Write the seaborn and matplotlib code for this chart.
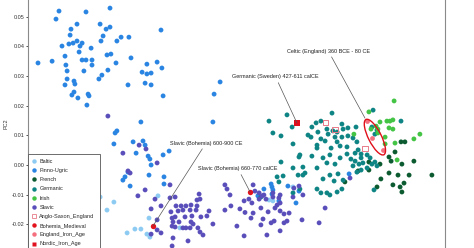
import numpy as np
import pandas as pd
import matplotlib
matplotlib.use("Agg")
import matplotlib.pyplot as plt
import seaborn as sns
from matplotlib.patches import Ellipse
from matplotlib.lines import Line2D
from matplotlib.ticker import FuncFormatter, FixedLocator

# PCA scores (units of 1e-3)
baltic_pc1 = [-45.3, -40.7, -43.0, -33.7, -31.7, -29.0, -36.3, -29.7, -28.7, -26.0, -18.7, 11.0, 12.3, 19.0]
baltic_pc2 = [-10.8, -12.5, -15.2, -21.6, -21.6, -17.9, -22.9, -23.3, -24.3, -10.4, -21.2, -11.8, -12.1, -7.4]

finno_pc1 = [-59.0, -60.0, -50.0, -42.0, -53.0, -55.0, -45.3, -43.3, -42.0, -55.3, -44.3, -38.3, -35.7, -39.7,
             -45.0, -58.0, -55.7, -54.3, -53.0, -51.3, -52.0, -48.3, -52.3, -57.0, -51.3, -50.0, -48.0, -48.0,
             -43.0, -41.7, -40.0, -35.0, -66.0, -61.3, -56.7, -56.3, -50.7, -42.7, -44.7, -45.7, -56.3, -54.0,
             -53.7, -57.0, -54.0, -54.7, -52.7, -49.3, -49.0, -49.7, -36.0, -31.3, -29.7, -28.3, -29.7, -26.3,
             -30.3, -28.3, -31.7, -25.0, -24.7, -24.3, -5.3, -7.3, -7.7, -40.3, -39.7, -40.7, -34.3, -31.0,
             -30.3, -33.3, -29.3, -28.7, -28.3, -24.3, -22.3, -36.0, -37.0, -37.7, -35.3, -29.0, -24.0, -24.0,
             9.3, 11.7, 12.0, 12.3, 12.0, 14.3, 17.3, 21.0, 7.3, 37.7, 20.0]
finno_pc2 = [51.9, 49.2, 51.6, 52.9, 47.5, 45.8, 47.5, 45.8, 46.5, 43.8, 43.5, 43.1, 43.1, 41.8,
             41.8, 40.1, 40.8, 41.1, 41.8, 41.1, 40.1, 39.4, 38.1, 36.7, 35.4, 35.4, 35.4, 33.7,
             37.1, 37.4, 34.4, 36.1, 34.4, 35.0, 33.7, 31.7, 31.7, 32.0, 30.3, 29.0, 29.0, 28.3,
             27.3, 27.0, 24.6, 23.6, 22.6, 23.9, 23.3, 20.2, 27.0, 31.3, 30.7, 31.0, 34.0, 34.7,
             27.6, 27.0, 14.5, 45.5, 32.7, 23.3, 28.0, 23.9, 14.5, 10.8, 11.5, 7.1, 7.8, 8.1,
             6.7, 4.0, 3.0, 2.0, 0.0, 3.4, 4.7, -2.4, -4.0, -5.1, -7.1, -3.4, -4.0, -6.4,
             -8.1, -6.4, -7.4, -8.4, -9.8, -12.1, -7.1, -8.8, -10.4, -3.0, -12.8]

french_pc1 = [55.0, 56.3, 53.0, 51.0, 51.7, 48.0, 55.3, 59.3, 51.0, 54.0, 57.7, 65.3, 48.3, 47.0,
              56.0, 52.3, 54.7, 55.3, 44.3, 40.7, 44.3, 36.3]
french_pc2 = [7.8, 7.8, 4.4, 2.7, 1.3, 0.3, 0.3, 1.3, -2.7, -3.4, -3.4, -3.4, -4.7, -7.4,
              -6.1, -6.7, -7.4, -9.1, 1.0, -2.0, -1.7, -5.7]

germanic_pc1 = [11.0, 17.0, 18.7, 25.3, 26.7, 12.3, 15.0, 19.0, 24.0, 27.0, 32.0, 28.3, 27.3, 30.3,
                30.7, 32.3, 33.7, 35.3, 37.3, 40.0, 35.7, 25.0, 28.3, 29.7, 33.0, 33.7, 35.3, 37.3,
                34.7, 27.0, 31.7, 37.0, 39.0, 40.3, 21.3, 25.3, 29.0, 31.3, 34.7, 37.0, 39.7, 40.7,
                41.7, 38.3, 39.7, 41.7, 43.7, 22.3, 19.0, 27.0, 30.3, 33.0, 39.0, 41.0, 42.3, 22.3,
                29.0, 31.3, 34.0, 40.3, 41.7, 43.7, 44.7, 45.3, 15.0, 21.0, 23.0, 20.7, 13.7, 14.3,
                15.7, 33.7, 27.0, 28.3, 30.3, 31.3, 19.0, 21.3, 8.3, 32.7, 35.7, 35.3, 46.0, 45.7,
                55.0, 45.3, 47.0, 46.3, 47.0, 46.3]
germanic_pc2 = [14.8, 16.9, 12.8, 12.8, 14.2, 10.8, 9.8, 7.1, 10.1, 6.7, 17.5, 14.8, 11.1, 12.1,
                10.4, 11.5, 11.1, 13.8, 12.5, 12.8, 12.1, 9.4, 8.8, 8.1, 9.4, 7.8, 9.4, 9.8,
                6.4, 5.7, 5.7, 6.1, 9.1, 7.8, 3.4, 3.0, 2.4, 3.4, 2.4, 3.7, 4.0, 5.1,
                3.7, 2.0, 1.3, 2.4, 3.4, -0.7, -1.0, -1.0, 0.7, 0.3, -0.3, 0.3, 0.7, -3.4,
                -4.7, -3.4, -3.0, -2.4, -1.7, -1.0, 2.4, 0.3, 1.0, 2.7, -2.7, -3.4, -4.0, -5.7,
                -3.7, -9.1, -8.1, -9.4, -9.4, -10.1, -9.4, -8.1, -10.8, -5.4, -5.1, -8.1, -8.4, 18.5,
                14.8, 12.8, 11.8, 1.0, -0.3, 10.4]

irish_pc1 = [52.7, 44.3, 50.3, 51.3, 52.3, 48.0, 46.7, 47.3, 51.0, 52.3, 61.3, 59.3, 49.7, 49.7,
             53.0, 47.3, 39.3, 45.0, 53.7]
irish_pc2 = [21.6, 17.9, 14.8, 14.8, 15.2, 14.5, 13.1, 12.1, 12.5, 12.1, 10.4, 8.8, 9.4, 7.1,
             7.4, 10.8, 10.4, 12.1, 1.7]

slavic_pc1 = [-42.7, -37.7, -32.3, -30.0, -36.0, -35.3, -26.3, -30.3, -32.7, -27.0, -28.3, -26.3, -28.3, -25.0,
              -26.3, -25.0, -22.0, -22.0, -20.3, -12.3, -12.0, -13.0, -20.0, -18.3, -16.7, -15.0, -13.0, -21.7,
              -19.3, -17.7, -15.3, -13.3, -9.0, -21.3, -20.3, -17.0, -14.7, -11.7, -9.7, -21.0, -19.0, -15.0,
              -21.3, -20.3, -17.7, -16.7, -15.3, -12.7, -7.7, -14.3, -12.0, -11.0, -21.0, -16.0, -21.3,
              -3.7, -3.0, -2.0, -1.7, -3.7, 0.3, 1.3, 3.0, 5.0, 2.7, 5.7, 6.3, 7.7, 9.3, 2.7, 4.3, 5.3,
              7.7, 8.7, 10.0, 12.3, 12.3, 14.7, 14.3, 13.7, 14.7, 5.7, 8.3, 10.7, 13.0, 14.7, 16.0, 17.7,
              19.0, 21.0, 19.3, 9.0, 11.7, 12.7, 16.0, 17.0, 22.0, 27.7, 29.7, 8.3, 14.7, 10.3, 22.3, 38.0]
slavic_pc2 = [16.5, 4.0, 6.7, 5.4, -2.0, -2.7, 0.7, -8.4, -10.4, -11.5, -14.8, -18.5, -23.3, -13.8,
              -21.9, -22.9, -6.7, -11.1, -10.8, -9.8, -11.5, -11.8, -13.8, -13.8, -13.8, -13.5, -13.8, -15.8,
              -15.5, -15.2, -15.2, -15.2, -15.5, -17.9, -17.5, -17.5, -17.2, -17.5, -17.2, -19.2, -19.2, -19.2,
              -20.6, -20.9, -21.2, -21.2, -21.2, -21.2, -19.9, -19.9, -22.6, -23.6, -24.6, -25.6, -27.3,
              -6.7, -8.1, -10.1, -13.8, -15.2, -20.6, -14.8, -16.0, -17.9, -23.9, -6.7, -8.8, -9.4, -10.1, -12.1, -11.5, -12.8,
              -11.5, -10.4, -11.5, -9.4, -10.8, -10.1, -11.1, -13.5, -12.8, -16.2, -14.5, -15.8, -14.5, -15.5, -16.5, -16.2,
              -10.8, -7.1, -7.8, -18.2, -19.5, -18.9, -19.5, -18.9, -18.5, -19.5, -14.5, -20.2, -22.2, -23.6, -10.1, -4.4]

anglo_pc1 = [29.7, 33.0, 43.0]
anglo_pc2 = [14.2, 12.1, 5.7]
bohemia_pc1 = [-27.7, 4.7]
bohemia_pc2 = [-20.6, -9.1]
england_ia_pc1 = [43.7, 45.3, 49.0]
england_ia_pc2 = [14.8, 9.1, 5.1]
nordic_pc1 = [20.3]
nordic_pc2 = [14.2]

main_groups = ["Baltic", "Finno-Ugric", "French", "Germanic", "Irish", "Slavic"]
yticks = [-20, -10, 0, 10, 20, 30, 40, 50]

palette = {
    "Baltic": "#8dcbf2",
    "Finno-Ugric": "#2a84e2",
    "French": "#0b5a30",
    "Germanic": "#0f8484",
    "Irish": "#44c444",
    "Slavic": "#5a4fba",
}
c_anglo = "#e87a88"
c_bohemia = "#e3121c"
c_england = "#f4707e"
c_nordic = "#e0101e"

main_data = {
    "Baltic": (baltic_pc1, baltic_pc2),
    "Finno-Ugric": (finno_pc1, finno_pc2),
    "French": (french_pc1, french_pc2),
    "Germanic": (germanic_pc1, germanic_pc2),
    "Irish": (irish_pc1, irish_pc2),
    "Slavic": (slavic_pc1, slavic_pc2),
}
frames = []
for g in main_groups:
    xs, ys = main_data[g]
    frames.append(pd.DataFrame({"PC1": xs, "PC2": ys, "group": g}))
df = pd.concat(frames, ignore_index=True)

sns.set_style("white")
plt.rcParams["font.family"] = ["Liberation Sans", "DejaVu Sans"]

fig = plt.figure(figsize=(4.74, 2.48), dpi=100)
ax = fig.add_axes([28 / 474, 0, 417 / 474, 1])

sns.scatterplot(data=df, x="PC1", y="PC2", hue="group", hue_order=main_groups,
                palette=palette, s=12, linewidth=0, legend=False, ax=ax, zorder=2)

ax.scatter(anglo_pc1, anglo_pc2, marker="s", s=13, facecolors="none",
           edgecolors=c_anglo, linewidths=0.7, zorder=3)
sns.scatterplot(x=england_ia_pc1, y=england_ia_pc2, color=c_england, s=12, linewidth=0, ax=ax, zorder=3)
sns.scatterplot(x=bohemia_pc1, y=bohemia_pc2, color=c_bohemia, s=15, linewidth=0, ax=ax, zorder=3)
sns.scatterplot(x=nordic_pc1, y=nordic_pc2, color=c_nordic, marker="s", s=17, linewidth=0, ax=ax, zorder=3)

ax.add_patch(Ellipse((46.3, 9.4), width=13.3, height=4.3, angle=-63.4,
                     fill=False, edgecolor="#e0101a", lw=1.0, zorder=4))

line_kw = dict(arrowstyle="-", color="#555555", lw=0.5, shrinkA=0, shrinkB=0)
txt_kw = dict(fontsize=4, ha="center", va="center", color="#222222", zorder=5)
ax.annotate("Celtic (England) 360 BCE - 80 CE", xy=(43.0, 15.8), xytext=(30.8, 38.4),
            arrowprops=line_kw, **txt_kw)
ax.annotate("Germanic (Sweden) 427-611 calCE", xy=(nordic_pc1[0], nordic_pc2[0]), xytext=(13.2, 29.7),
            arrowprops=line_kw, **txt_kw)
ax.annotate("Slavic (Bohemia) 600-900 CE", xy=(bohemia_pc1[0], bohemia_pc2[0]), xytext=(-10.0, 7.4),
            arrowprops=line_kw, **txt_kw)
ax.annotate("Slavic (Bohemia) 660-770 calCE", xy=(bohemia_pc1[1], bohemia_pc2[1]), xytext=(0.7, -1.3),
            arrowprops=line_kw, **txt_kw)

ax.set_xlim(-208 / 3, 209 / 3)
ax.set_ylim(-83 / 2.966, 165 / 2.966)
ax.set_xticks([])
ax.yaxis.set_major_locator(FixedLocator(yticks))
ax.yaxis.set_major_formatter(FuncFormatter(lambda v, p: f"{v / 1000:.2f}"))
ax.tick_params(axis="y", which="major", left=True, direction="out", length=1.5, width=0.6,
               pad=0.8, labelsize=4, colors="#333333")
ax.set_xlabel("")
ax.set_ylabel("PC2", fontsize=4, labelpad=2.5, color="#333333")
for side in ["top", "bottom"]:
    ax.spines[side].set_visible(False)
for side in ["left", "right"]:
    ax.spines[side].set_visible(True)
    ax.spines[side].set_color("#8a8a8a")
    ax.spines[side].set_linewidth(0.8)

handles = []
for g in main_groups:
    handles.append(Line2D([], [], ls="none", marker="o", ms=3.2, mfc=palette[g], mec="none", label=g))
handles.append(Line2D([], [], ls="none", marker="s", ms=3.2, mfc="none", mec=c_anglo, mew=0.6,
                      label="Anglo-Saxon_England"))
handles.append(Line2D([], [], ls="none", marker="o", ms=3.2, mfc=c_bohemia, mec="none", label="Bohemia_Medieval"))
handles.append(Line2D([], [], ls="none", marker="o", ms=3.2, mfc=c_england, mec="none", label="England_Iron_Age"))
handles.append(Line2D([], [], ls="none", marker="s", ms=3.2, mfc=c_nordic, mec="none", label="Nordic_Iron_Age"))
leg = ax.legend(handles=handles, loc="upper left", bbox_to_anchor=(0, (248 - 154) / 248),
                borderaxespad=0, frameon=True, fancybox=False, framealpha=1, edgecolor="#555555",
                fontsize=4, handlelength=0.5, handletextpad=0.65, labelspacing=0.75, borderpad=0.9)
leg.get_frame().set_linewidth(0.6)
leg.set_zorder(10)

fig.savefig("out.png", dpi=100)
